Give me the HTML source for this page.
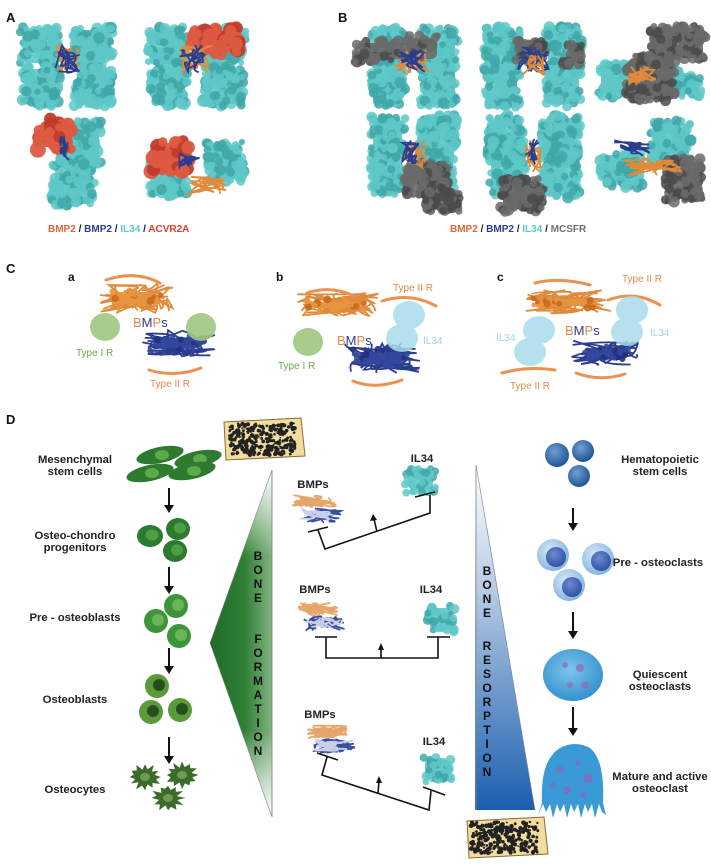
<!DOCTYPE html>
<html><head><meta charset="utf-8">
<style>
html,body{margin:0;padding:0;background:#fff;}
svg{display:block;}
text{font-family:"Liberation Sans",Arial,sans-serif;}
.lb{font-weight:bold;font-size:11.3px;fill:#222;}
.pl{font-weight:bold;font-size:13px;fill:#111;}
</style></head><body>
<svg id="s" width="711" height="867" viewBox="0 0 711 867" xmlns="http://www.w3.org/2000/svg">
<defs>
<linearGradient id="gG" x1="0" y1="0" x2="1" y2="0">
<stop offset="0" stop-color="#1f6b2a"/><stop offset="0.55" stop-color="#2f7f35"/><stop offset="1" stop-color="#7fb27f"/>
</linearGradient>
<linearGradient id="gGv" x1="0" y1="0" x2="0" y2="1">
<stop offset="0" stop-color="#fff" stop-opacity="1"/><stop offset="0.25" stop-color="#fff" stop-opacity="0"/><stop offset="0.75" stop-color="#fff" stop-opacity="0"/><stop offset="1" stop-color="#fff" stop-opacity="1"/>
</linearGradient>
<linearGradient id="gB" x1="0" y1="0" x2="0" y2="1">
<stop offset="0" stop-color="#ffffff"/><stop offset="0.35" stop-color="#b9cde6"/><stop offset="1" stop-color="#1a5fae"/>
</linearGradient>
<radialGradient id="hs" cx="0.4" cy="0.35" r="0.7">
<stop offset="0" stop-color="#6f9fd6"/><stop offset="1" stop-color="#1d4f8f"/>
</radialGradient>
<radialGradient id="pc" cx="0.4" cy="0.35" r="0.7">
<stop offset="0" stop-color="#d6e8f7"/><stop offset="1" stop-color="#7fb0df"/>
</radialGradient>
<radialGradient id="pn" cx="0.4" cy="0.35" r="0.7">
<stop offset="0" stop-color="#6d8ad0"/><stop offset="1" stop-color="#2c4f9e"/>
</radialGradient>
<radialGradient id="qo" cx="0.45" cy="0.4" r="0.7">
<stop offset="0" stop-color="#7cc6ee"/><stop offset="1" stop-color="#2a88c8"/>
</radialGradient>
</defs>
<g id="g"></g>

<text class="pl" x="6" y="22">A</text>
<text class="pl" x="338" y="22">B</text>
<text class="pl" x="6" y="273">C</text>
<text class="pl" x="6" y="424">D</text>

<text x="48" y="232" style="font-weight:bold;font-size:10px"><tspan fill="#d9683a">BMP2</tspan><tspan fill="#222"> / </tspan><tspan fill="#2e3d8f">BMP2</tspan><tspan fill="#222"> / </tspan><tspan fill="#5ec8c8">IL34</tspan><tspan fill="#222"> / </tspan><tspan fill="#d9402e">ACVR2A</tspan></text>
<text x="450" y="232" style="font-weight:bold;font-size:10px"><tspan fill="#d9683a">BMP2</tspan><tspan fill="#222"> / </tspan><tspan fill="#2e3d8f">BMP2</tspan><tspan fill="#222"> / </tspan><tspan fill="#5ec8c8">IL34</tspan><tspan fill="#222"> / </tspan><tspan fill="#707070">MCSFR</tspan></text>

<g style="font-weight:bold;font-size:12px;fill:#111">
<text x="68" y="281">a</text><text x="276" y="281">b</text><text x="497" y="281">c</text>
</g>
<g fill="none" stroke="#ec9150" stroke-width="3" stroke-linecap="round">
<path d="M106 280 Q135 270 160 283"/>
<path d="M149 370 Q175 378 201 368"/>
<path d="M307 293 Q330 285 354 296"/>
<path d="M382 301 Q410 292 436 306"/>
<path d="M353 381 Q375 390 402 380"/>
<path d="M535 283 Q560 277 590 285"/>
<path d="M608 300 Q635 290 660 305"/>
<path d="M502 373 Q528 366 555 370"/>
<path d="M576 373 Q600 382 625 374"/>
</g>
<g fill="#9dc77e" opacity="0.9">
<ellipse cx="105" cy="327" rx="15" ry="14"/><ellipse cx="201" cy="327" rx="15" ry="14"/>
<ellipse cx="308" cy="342" rx="15" ry="14"/>
</g>
<g fill="#a9dbea" opacity="0.85">
<ellipse cx="409" cy="315" rx="16" ry="14"/><ellipse cx="402" cy="338" rx="16" ry="14"/>
<ellipse cx="539" cy="330" rx="16" ry="14"/><ellipse cx="530" cy="352" rx="16" ry="14"/>
<ellipse cx="632" cy="310" rx="16" ry="14"/><ellipse cx="627" cy="332" rx="16" ry="14"/>
</g>
<g style="font-size:10px">
<text x="76" y="356" fill="#6aa84f">Type I R</text>
<text x="150" y="387" fill="#e0884a">Type II R</text>
<text x="278" y="369" fill="#6aa84f">Type I R</text>
<text x="393" y="291" fill="#e0884a">Type II R</text>
<text x="423" y="344" fill="#9fd3e6">IL34</text>
<text x="496" y="341" fill="#9fd3e6">IL34</text>
<text x="622" y="282" fill="#e0884a">Type II R</text>
<text x="650" y="336" fill="#9fd3e6">IL34</text>
<text x="510" y="389" fill="#e0884a">Type II R</text>
</g>
<g style="font-size:13px">
<text x="133" y="327"><tspan fill="#e0884a">B</tspan><tspan fill="#2e3d8f">M</tspan><tspan fill="#e0884a">P</tspan><tspan fill="#2e3d8f">s</tspan></text>
<text x="337" y="345"><tspan fill="#e0884a">B</tspan><tspan fill="#2e3d8f">M</tspan><tspan fill="#e0884a">P</tspan><tspan fill="#2e3d8f">s</tspan></text>
<text x="565" y="335"><tspan fill="#e0884a">B</tspan><tspan fill="#2e3d8f">M</tspan><tspan fill="#e0884a">P</tspan><tspan fill="#2e3d8f">s</tspan></text>
</g>

<polygon points="210,643 272,470 272,817" fill="url(#gG)"/>
<polygon points="210,643 272,470 272,817" fill="url(#gGv)"/>
<line x1="272" y1="470" x2="272" y2="817" stroke="#888" stroke-width="1"/>
<line x1="210" y1="643" x2="272" y2="470" stroke="#888" stroke-width="0.6"/>
<line x1="210" y1="643" x2="272" y2="817" stroke="#888" stroke-width="0.6"/>
<polygon points="475,465 477,465 535,810 475,810" fill="url(#gB)"/>
<line x1="476" y1="465" x2="476" y2="810" stroke="#888" stroke-width="0.8"/>
<line x1="476" y1="465" x2="535" y2="810" stroke="#888" stroke-width="0.6"/>
<g style="font-weight:bold;font-size:12px;fill:#111" text-anchor="middle">
<text x="258" y="560">B</text><text x="258" y="574">O</text><text x="258" y="588">N</text><text x="258" y="602">E</text>
<text x="258" y="643">F</text><text x="258" y="657">O</text><text x="258" y="671">R</text><text x="258" y="685">M</text><text x="258" y="699">A</text><text x="258" y="713">T</text><text x="258" y="727">I</text><text x="258" y="741">O</text><text x="258" y="755">N</text>
<text x="487" y="575">B</text><text x="487" y="589">O</text><text x="487" y="603">N</text><text x="487" y="617">E</text>
<text x="487" y="650">R</text><text x="487" y="664">E</text><text x="487" y="678">S</text><text x="487" y="692">O</text><text x="487" y="706">R</text><text x="487" y="720">P</text><text x="487" y="734">T</text><text x="487" y="748">I</text><text x="487" y="762">O</text><text x="487" y="776">N</text>
</g>

<g class="lb" text-anchor="middle">
<text x="75" y="463" class="lb">Mesenchymal</text><text x="75" y="475" class="lb">stem cells</text>
<text x="75" y="539" class="lb">Osteo-chondro</text><text x="75" y="551" class="lb">progenitors</text>
<text x="75" y="621" class="lb">Pre - osteoblasts</text>
<text x="75" y="703" class="lb">Osteoblasts</text>
<text x="75" y="793" class="lb">Osteocytes</text>
<text x="660" y="463" class="lb">Hematopoietic</text><text x="660" y="475" class="lb">stem cells</text>
<text x="658" y="566" class="lb">Pre - osteoclasts</text>
<text x="660" y="678" class="lb">Quiescent</text><text x="660" y="690" class="lb">osteoclasts</text>
<text x="660" y="780" class="lb">Mature and active</text><text x="660" y="792" class="lb">osteoclast</text>
<text x="313" y="488" class="lb">BMPs</text><text x="422" y="462" class="lb">IL34</text>
<text x="315" y="593" class="lb">BMPs</text><text x="431" y="593" class="lb">IL34</text>
<text x="320" y="718" class="lb">BMPs</text><text x="434" y="745" class="lb">IL34</text>
</g>

<g fill="none" stroke="#111" stroke-width="1.6">
<path d="M308 532 L328 527 M318 530 L325 549 L430 513 L430 495 M415 497 L435 492"/>
<path d="M377 532 L374 519"/>
<path d="M315 637 L337 637 M326 637 L326 658 L438 658 L438 637 M427 637 L450 637"/>
<path d="M381 658 L381 647"/>
<path d="M317 753 L338 760 M327 757 L322 775 L429 810 L431 791 M423 787 L445 795"/>
<path d="M378 793 L379 781"/>
</g>
<g fill="#111">
<polygon points="373,514 370,521 377,520"/>
<polygon points="381,643 378,650 384,650"/>
<polygon points="379,776 376,783 382,783"/>
</g>
<g stroke="#111" stroke-width="2">
<line x1="169" y1="488" x2="169" y2="506"/><line x1="169" y1="567" x2="169" y2="587"/>
<line x1="169" y1="648" x2="169" y2="667"/><line x1="169" y1="737" x2="169" y2="757"/>
<line x1="573" y1="508" x2="573" y2="524"/><line x1="573" y1="612" x2="573" y2="632"/>
<line x1="573" y1="707" x2="573" y2="729"/>
</g>
<g fill="#111">
<polygon points="164,505 174,505 169,513"/><polygon points="164,586 174,586 169,594"/>
<polygon points="164,666 174,666 169,674"/><polygon points="164,756 174,756 169,764"/>
<polygon points="568,523 578,523 573,531"/><polygon points="568,631 578,631 573,639"/>
<polygon points="568,728 578,728 573,736"/>
</g>
</svg>
<script>
(function(){
var NS="http://www.w3.org/2000/svg",G=document.getElementById("g");
var seed=7;function r(){seed=(seed*16807)%2147483647;return seed/2147483647;}
function el(t,a){var e=document.createElementNS(NS,t);for(var k in a)e.setAttribute(k,a[k]);G.appendChild(e);return e;}
function cl(x0,y0,x1,y1,c,c2,n,rmin,rmax,op){n=n||Math.round((x1-x0)*(y1-y0)/18);rmin=rmin||3;rmax=rmax||6;
 el("rect",{x:x0+3,y:y0+3,width:x1-x0-6,height:y1-y0-6,rx:6,fill:c,opacity:op||0.9});
 for(var i=0;i<n;i++){var x=x0+r()*(x1-x0),y=y0+r()*(y1-y0);el("circle",{cx:x,cy:y,r:rmin+r()*(rmax-rmin),fill:r()<0.35?c2:c,opacity:op||0.85});}}
function rib(x0,y0,x1,y1,c,n){n=n||8;for(var i=0;i<n;i++){var d="M"+(x0+r()*(x1-x0))+" "+(y0+r()*(y1-y0));for(var j=0;j<3;j++)d+=" Q"+(x0+r()*(x1-x0))+" "+(y0+r()*(y1-y0))+" "+(x0+r()*(x1-x0))+" "+(y0+r()*(y1-y0));el("path",{d:d,fill:"none",stroke:c,"stroke-width":1.8});}}
var C="#5ec8c8",C2="#3fa7a8",GR="#6a6a6a",GR2="#4a4a4a",RD="#dc5a42",RD2="#c23b2a",OR="#e08a3c",BL="#2b3d8f";
cl(20,27,58,66,C,C2);cl(22,66,60,107,C,C2);cl(72,27,114,66,C,C2);cl(74,66,112,107,C,C2);
rib(55,42,82,75,OR,6);rib(55,45,80,75,BL,5);
cl(148,27,188,66,C,C2);cl(150,66,188,107,C,C2);cl(200,27,246,66,C,C2);cl(202,66,244,107,C,C2);
cl(192,28,242,56,RD,RD2,40,4,8,0.95);rib(178,45,212,75,OR,6);rib(180,45,205,72,BL,5);
cl(58,120,102,165,C,C2);cl(52,160,95,207,C,C2);cl(37,118,72,150,RD,RD2,35,4,8,0.95);rib(58,135,70,160,BL,4);
cl(150,150,188,197,C,C2);cl(206,142,244,182,C,C2);cl(150,140,190,172,RD,RD2,35,4,8,0.95);rib(185,172,228,195,OR,6);rib(175,150,200,167,BL,4);
cl(370,27,405,107,C,C2);cl(420,27,458,107,C,C2);cl(352,40,420,62,GR,GR2,50);cl(405,35,440,62,GR,GR2,20);rib(395,50,430,75,OR,6);rib(398,48,425,72,BL,4);
cl(484,27,520,107,C,C2);cl(545,27,582,107,C,C2);cl(515,38,545,62,GR,GR2);cl(563,45,582,65,GR,GR2);rib(518,45,550,72,BL,6);rib(520,55,545,75,OR,3);
cl(598,62,640,97,C,C2);cl(660,70,700,97,C,C2);cl(650,25,706,60,GR,GR2);cl(625,55,676,102,GR,GR2);rib(625,65,660,85,OR,5);
cl(370,115,405,195,C,C2);cl(420,115,456,190,C,C2);cl(405,162,448,195,GR,GR2);cl(425,185,460,212,GR,GR2);rib(400,140,430,170,OR,5);rib(402,138,425,165,BL,4);
cl(488,115,525,198,C,C2);cl(540,115,580,198,C,C2);cl(500,178,545,212,GR,GR2);rib(525,140,542,172,OR,5);rib(525,138,540,165,BL,3);
cl(600,152,642,188,C,C2);cl(650,120,692,165,C,C2);cl(665,158,702,202,GR,GR2);rib(622,158,682,176,OR,6);rib(612,140,650,156,BL,5);
function cp(x0,y0,x1,y1,x2,y2,x3,y3){rib(x0,y0,x1,y1,OR,14);cl(x0+8,y0+6,x1-12,y1-6,"#e8953e","#c86b1e",20,2,4,0.9);
 rib(x2,y2,x3,y3,BL,14);cl(x2+8,y2+6,x3-10,y3-6,"#33479e","#22307a",22,2,4,0.9);}
cp(100,283,173,313,142,330,215,357);cp(297,293,379,317,343,343,420,373);cp(525,290,612,315,571,340,639,365);
function bmp(x,y){rib(x,y,x+45,y+13,"#e6a66a",8);rib(x+8,y+13,x+50,y+28,"#3a4da0",8);rib(x+8,y+14,x+48,y+26,"#c9cfe8",4);}
bmp(292,495);bmp(295,603);bmp(306,725);
cl(405,467,436,493,C,C2,35,3,5);cl(427,605,455,633,C,C2,35,3,5);cl(422,755,452,782,C,C2,35,3,5);
function bone(x0,y0,x1,y1){el("polygon",{points:(x0+4)+","+(y0+4)+" "+(x1-4)+","+y0+" "+x1+","+(y1-4)+" "+(x0+6)+","+y1,fill:"#f2dca0",stroke:"#8a6a30","stroke-width":1});
 for(var i=0;i<260;i++){el("circle",{cx:x0+8+r()*(x1-x0-18),cy:y0+5+r()*(y1-y0-10),r:0.8+r()*1.6,fill:"#222"});}}
bone(220,418,305,460);bone(463,817,548,858);
function spindle(cx,cy){el("ellipse",{cx:cx,cy:cy,rx:24,ry:8,fill:"#2e7b30",transform:"rotate(-12 "+cx+" "+cy+")"});el("ellipse",{cx:cx+2,cy:cy,rx:7,ry:5,fill:"#5caa48"});}
spindle(160,455);spindle(198,459);spindle(150,473);spindle(192,471);
function cell(cx,cy,rx,ry,c,n,nc){el("ellipse",{cx:cx,cy:cy,rx:rx,ry:ry,fill:c});el("ellipse",{cx:cx+2,cy:cy-1,rx:rx*0.5,ry:ry*0.5,fill:nc});}
cell(150,536,13,11,"#2c7a2e",0,"#4f9e45");cell(178,529,12,11,"#2c7a2e",0,"#4f9e45");cell(175,551,12,11,"#2c7a2e",0,"#4f9e45");
cell(176,606,12,12,"#3d953a",0,"#6bb457");cell(156,621,12,12,"#3d953a",0,"#6bb457");cell(179,636,12,12,"#3d953a",0,"#6bb457");
cell(157,686,12,12,"#5a9a3a",0,"#254f1c");cell(151,712,12,12,"#5a9a3a",0,"#254f1c");cell(180,710,12,12,"#5a9a3a",0,"#254f1c");
function ocy(cx,cy){var p="";for(var i=0;i<24;i++){var a=i*Math.PI/12,rr=(i%2?9:15)+r()*3;p+=(cx+rr*Math.cos(a))+","+(cy+rr*0.8*Math.sin(a))+" ";}el("polygon",{points:p,fill:"#3b6a2b"});el("ellipse",{cx:cx,cy:cy,rx:5,ry:4,fill:"#6f9a55"});}
ocy(145,777);ocy(182,775);ocy(168,798);
el("circle",{cx:557,cy:455,r:12,fill:"url(#hs)"});el("circle",{cx:583,cy:451,r:11,fill:"url(#hs)"});el("circle",{cx:579,cy:476,r:11,fill:"url(#hs)"});
function pre(cx,cy){el("circle",{cx:cx,cy:cy,r:16,fill:"url(#pc)"});el("circle",{cx:cx+3,cy:cy+2,r:10,fill:"url(#pn)"});}
pre(553,555);pre(598,559);pre(569,585);
el("ellipse",{cx:573,cy:675,rx:30,ry:26,fill:"url(#qo)"});
[[565,665,3],[580,668,4],[570,685,3],[585,685,4]].forEach(function(a){el("circle",{cx:a[0],cy:a[1],r:a[2],fill:"#8a70b8",opacity:0.8});});
var d="M542 803 Q540 760 560 748 Q575 740 590 748 Q605 760 603 803 L606 815";for(var i=0;i<9;i++){var x=603-i*7;d+=" L"+(x-1)+" "+(808+ (i%2?10:4))+" L"+(x-4)+" 804";}d+=" L538 815 Z";
el("path",{d:d,fill:"#3a9ad6"});
[[560,770,4],[578,763,3],[588,778,5],[567,790,4],[583,795,3],[553,785,3]].forEach(function(a){el("circle",{cx:a[0],cy:a[1],r:a[2],fill:"#7e6fbf",opacity:0.8});});
})();
</script>
</body></html>
